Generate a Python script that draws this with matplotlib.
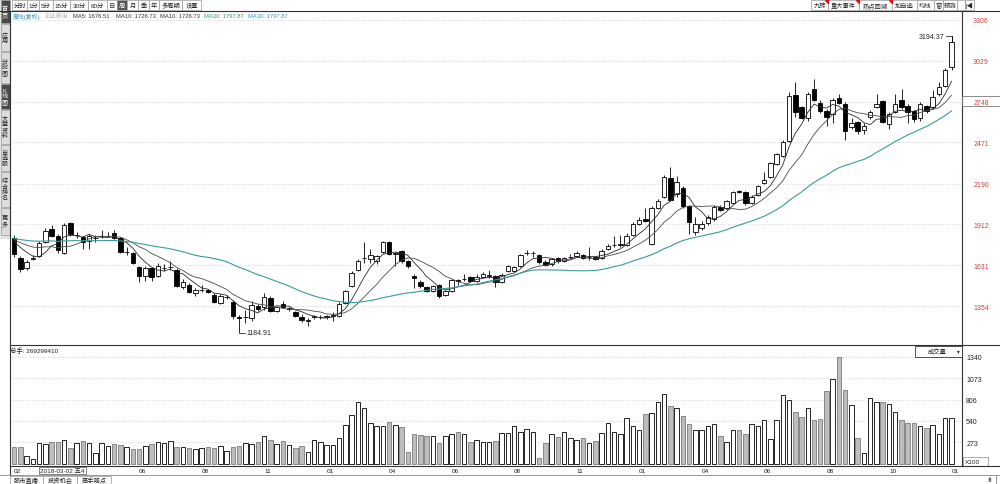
import numpy as np
import pandas as pd
import matplotlib
matplotlib.use('Agg')
import matplotlib.pyplot as plt
from matplotlib.patches import Rectangle

plt.rcParams['font.family'] = ['Liberation Sans', 'Noto Sans CJK SC', 'DejaVu Sans']

# weekly K-line data
opens = [1818, 1682, 1613, 1675, 1695, 1791, 1880, 1832, 1716, 1920,
         1836, 1825, 1798, 1815, 1830, 1830, 1852, 1818, 1720, 1716,
         1620, 1559, 1613, 1559, 1610, 1618, 1600, 1484, 1497, 1443,
         1462, 1463, 1429, 1374, 1415, 1381, 1282, 1276, 1272, 1354,
         1347, 1408, 1320, 1367, 1334, 1313, 1279, 1252, 1279, 1279,
         1280, 1286, 1286, 1374, 1491, 1600, 1680, 1675, 1661, 1723,
         1791, 1710, 1730, 1661, 1559, 1518, 1484, 1457, 1497, 1429,
         1457, 1532, 1538, 1552, 1525, 1555, 1560, 1559, 1518, 1593,
         1593, 1627, 1714, 1714, 1702, 1654, 1641, 1682, 1661, 1686,
         1695, 1702, 1686, 1688, 1682, 1743, 1768, 1770, 1770, 1839,
         1914, 1948, 1777, 2023, 2098, 2228, 2119, 2159, 2037, 1859,
         1886, 1920, 1945, 2030, 2023, 2057, 2139, 2132, 2057, 2112,
         2194, 2235, 2323, 2378, 2480, 2794, 2712, 2637, 2835, 2740,
         2685, 2664, 2774, 2733, 2576, 2610, 2555, 2644, 2712, 2753,
         2596, 2678, 2760, 2719, 2685, 2637, 2719, 2712, 2801, 2856,
         2985]
closes = [1709, 1607, 1654, 1685, 1784, 1866, 1832, 1736, 1907, 1846,
          1842, 1791, 1832, 1820, 1834, 1834, 1818, 1723, 1725, 1648,
          1559, 1613, 1552, 1627, 1614, 1622, 1491, 1518, 1450, 1463,
          1466, 1450, 1381, 1422, 1418, 1286, 1275, 1280, 1361, 1334,
          1415, 1320, 1347, 1347, 1338, 1286, 1259, 1256, 1283, 1282,
          1283, 1290, 1368, 1456, 1579, 1661, 1684, 1702, 1695, 1791,
          1709, 1714, 1661, 1627, 1545, 1491, 1457, 1491, 1422, 1457,
          1532, 1525, 1541, 1525, 1552, 1570, 1563, 1518, 1566, 1627,
          1620, 1702, 1718, 1718, 1654, 1634, 1675, 1661, 1682, 1690,
          1716, 1682, 1690, 1675, 1730, 1764, 1772, 1774, 1832, 1914,
          1941, 1934, 2023, 2071, 2235, 2077, 2200, 2037, 1927, 1914,
          1914, 1960, 2030, 2010, 2071, 2132, 2132, 2057, 2098, 2173,
          2214, 2330, 2392, 2473, 2787, 2678, 2637, 2801, 2760, 2685,
          2644, 2760, 2740, 2548, 2603, 2548, 2583, 2678, 2733, 2610,
          2664, 2733, 2712, 2678, 2630, 2733, 2685, 2780, 2849, 2965,
          3156]
highs = [1840, 1695, 1668, 1705, 1798, 1886, 1907, 1845, 1920, 1927,
         1860, 1832, 1845, 1840, 1870, 1862, 1875, 1825, 1760, 1722,
         1630, 1625, 1620, 1645, 1640, 1660, 1610, 1540, 1510, 1475,
         1500, 1470, 1440, 1435, 1430, 1395, 1290, 1330, 1385, 1370,
         1440, 1420, 1355, 1388, 1350, 1320, 1300, 1270, 1290, 1290,
         1295, 1310, 1380, 1465, 1590, 1675, 1791, 1740, 1705, 1798,
         1800, 1720, 1735, 1668, 1570, 1530, 1490, 1500, 1505, 1465,
         1540, 1540, 1570, 1560, 1570, 1585, 1600, 1565, 1580, 1635,
         1630, 1710, 1735, 1730, 1710, 1665, 1685, 1690, 1690, 1710,
         1730, 1710, 1757, 1695, 1740, 1775, 1830, 1840, 1850, 1925,
         1960, 2020, 2035, 2085, 2250, 2303, 2240, 2170, 2045, 1960,
         1935, 1975, 2040, 2045, 2080, 2140, 2145, 2140, 2110, 2180,
         2270, 2340, 2400, 2490, 2812, 2883, 2720, 2815, 2904, 2760,
         2700, 2775, 2800, 2745, 2640, 2620, 2600, 2690, 2800, 2760,
         2680, 2800, 2835, 2730, 2690, 2745, 2725, 2830, 2880, 2975,
         3194.37]
lows = [1688, 1586, 1600, 1665, 1690, 1785, 1825, 1716, 1709, 1832,
        1820, 1743, 1743, 1790, 1820, 1822, 1810, 1716, 1705, 1640,
        1520, 1525, 1525, 1550, 1595, 1600, 1485, 1470, 1440, 1425,
        1450, 1440, 1375, 1365, 1400, 1265, 1184.91, 1240, 1255, 1320,
        1330, 1310, 1310, 1340, 1320, 1280, 1245, 1215, 1265, 1268,
        1265, 1255, 1280, 1370, 1485, 1590, 1650, 1645, 1640, 1716,
        1700, 1630, 1650, 1615, 1480, 1480, 1450, 1450, 1410, 1420,
        1450, 1500, 1525, 1520, 1520, 1550, 1545, 1485, 1510, 1585,
        1585, 1620, 1700, 1690, 1640, 1625, 1630, 1650, 1655, 1675,
        1690, 1675, 1670, 1665, 1675, 1735, 1755, 1760, 1765, 1830,
        1905, 1925, 1770, 2015, 2090, 2070, 2100, 2020, 1846, 1840,
        1875, 1905, 1935, 2000, 2015, 2050, 2125, 2045, 2050, 2105,
        2185, 2228, 2315, 2370, 2470, 2644, 2630, 2620, 2750, 2670,
        2582, 2600, 2730, 2487, 2560, 2530, 2530, 2630, 2705, 2600,
        2560, 2670, 2700, 2600, 2610, 2620, 2670, 2700, 2790, 2850,
        2965]
volumes = [208, 208, 104, 63, 263, 250, 280, 280, 304, 196,
           263, 292, 263, 138, 263, 229, 250, 238, 208, 188,
           188, 229, 250, 271, 263, 284, 208, 208, 196, 188,
           196, 208, 200, 221, 167, 208, 221, 263, 250, 271,
           354, 300, 250, 284, 238, 196, 221, 146, 304, 271,
           238, 238, 321, 488, 613, 780, 696, 509, 480, 480,
           521, 488, 467, 154, 371, 363, 354, 346, 259, 354,
           371, 396, 371, 280, 304, 280, 271, 284, 391, 391,
           478, 404, 433, 404, 71, 258, 379, 341, 404, 329,
           300, 329, 266, 291, 391, 516, 404, 370, 582, 478,
           420, 620, 641, 770, 882, 728, 695, 595, 503, 420,
           420, 478, 503, 354, 270, 420, 420, 379, 503, 474,
           557, 308, 545, 865, 803, 645, 591, 695, 557, 566,
           911, 1069, 1340, 924, 736, 329, 133, 832, 782, 774,
           745, 657, 545, 516, 516, 478, 453, 491, 370, 570,
           570]
total_vol = '269299410'
price_ticks = [3306, 3029, 2748, 2471, 2190, 1912, 1631, 1354]
vol_ticks = [1340, 1073, 806, 540, 273]
date_ticks = [0, 20, 30, 40, 50, 60, 70, 80, 90, 100, 110, 120, 130, 140, 150]
date_labels = ['02', '06', '08', '11', '01', '04', '06', '08', '11', '01',
               '04', '06', '08', '10', '01']
hover_label = '2018-03-02 五'

df = pd.DataFrame({'open': opens, 'close': closes, 'high': highs,
                   'low': lows, 'vol': volumes})
# moving averages, seeded with the first visible price level
seed = pd.Series([opens[0]] * 29 + closes)
df['ma5'] = seed.rolling(5).mean().iloc[29:].values
df['ma10'] = seed.rolling(10).mean().iloc[29:].values
df['ma30'] = seed.rolling(30).mean().iloc[29:].values
x = np.arange(len(df))
up = df['close'] >= df['open']

W, H = 1000, 485
fig = plt.figure(figsize=(W / 100, H / 100), dpi=100)
fig.patch.set_facecolor('white')


def px_axes(x0, y0, x1, y1):
    return fig.add_axes([x0 / W, 1 - y1 / H, (x1 - x0) / W, (y1 - y0) / H])


XL = ((10 - 14) / 6.25, (962 - 14) / 6.25)
grid_kw = dict(color='#c4c4c4', lw=0.6, ls=(0, (1, 2)), zorder=0)
red = '#d6403e'

# ---- price panel
ax = px_axes(10, 12, 962, 345)
ax.set_xlim(*XL)
ax.set_ylim(3306 - (345 - 21) * 6.825, 3306 + 9 * 6.825)
for t in price_ticks:
    ax.axhline(t, **grid_kw)
body = (df['close'] - df['open']).abs().clip(lower=1.5)
bottom = df[['open', 'close']].min(axis=1)
ax.vlines(x, df['low'], df['high'], color='black', lw=0.6, zorder=2)
ax.bar(x[up], body[up], bottom=bottom[up], width=0.72, facecolor='white',
       edgecolor='black', lw=0.6, zorder=3)
ax.bar(x[~up], body[~up], bottom=bottom[~up], width=0.72, facecolor='black',
       edgecolor='black', lw=0.6, zorder=3)
ax.plot(x, df['ma5'], color='#2a2a2a', lw=0.6, zorder=4)
ax.plot(x, df['ma10'], color='#4a4a4a', lw=0.6, zorder=4)
ax.plot(x, df['ma30'], color='#3a9e98', lw=0.8, zorder=4)
ax.set_yticks(price_ticks)
ax.set_yticklabels([str(t) for t in price_ticks], color=red, fontsize=5)
ax.yaxis.tick_right()
ax.tick_params(axis='y', length=0, pad=8)
ax.set_xticks([])
for s in ['top', 'left', 'bottom']:
    ax.spines[s].set_visible(False)
ax.spines['right'].set_color('#333333')
ax.spines['right'].set_linewidth(0.8)

# low / high markers
imin = int(np.argmin(lows))
imax = int(np.argmax(highs))
ax.plot([imin, imin, imin + 1.0], [lows[imin], lows[imin] - 15, lows[imin] - 15],
        color='black', lw=0.5)
ax.text(imin + 1.2, lows[imin] - 15, f'{lows[imin]:.2f}', fontsize=5,
        va='center', ha='left', color='#222222')
ax.plot([imax - 0.9, imax, imax], [highs[imax], highs[imax], closes[imax]],
        color='black', lw=0.5)
ax.text(imax - 1.1, highs[imax], f'{highs[imax]:.2f}', fontsize=5,
        va='center', ha='right', color='#222222')

# ---- volume panel
vax = px_axes(10, 347, 962, 467)
vax.set_xlim(*XL)
vax.set_ylim(-25, (465 - 347) * 12.52)
for t in vol_ticks:
    vax.axhline(t, **grid_kw)
vax.bar(x[up], df['vol'][up], width=0.72, facecolor='white',
        edgecolor='black', lw=0.6, zorder=3)
vax.bar(x[~up], df['vol'][~up], width=0.72, facecolor='#bdbdbd',
        edgecolor='#7a7a7a', lw=0.6, zorder=3)
vax.set_yticks(vol_ticks)
vax.set_yticklabels([str(t) for t in vol_ticks], fontsize=5, color='#222222')
vax.yaxis.tick_right()
vax.tick_params(axis='y', length=0, pad=3)
vax.set_xticks([])
for s in ['top', 'left', 'bottom']:
    vax.spines[s].set_visible(False)
vax.spines['right'].set_color('#333333')
vax.spines['right'].set_linewidth(0.8)
vax.text(0.0, 1.0, '总手: ' + total_vol, transform=vax.transAxes,
         fontsize=4.6, va='top', ha='left', color='#222222')

# date labels under volume panel
dax = px_axes(10, 467, 962, 476)
dax.set_xlim(*XL)
dax.set_ylim(0, 1)
dax.axis('off')
for t, lab in zip(date_ticks, date_labels):
    dax.text(t, 0.45, lab, fontsize=4.6, ha='left', va='center', color='#222222')
dax.text(4.2, 0.45, hover_label + '4', fontsize=4.6, ha='left', va='center',
         color='#222222',
         bbox=dict(boxstyle='square,pad=0.15', fc='white', ec='#555555', lw=0.5))

# ---- chrome (toolbar, sidebar, frames) in pixel coordinates
ov = fig.add_axes([0, 0, 1, 1], zorder=-1)
ov.set_xlim(0, W)
ov.set_ylim(H, 0)
ov.axis('off')
top = fig.add_axes([0, 0, 1, 1], zorder=10)
top.set_xlim(0, W)
top.set_ylim(H, 0)
top.axis('off')
top.patch.set_alpha(0)

line = dict(color='#333333', lw=0.8)
top.plot([0, W], [11.5, 11.5], **line)
top.plot([10, 10], [11.5, 476], **line)
top.plot([10, 1000], [345.5, 345.5], **line)
top.plot([10, 1000], [467, 467], **line)
top.plot([0, 1000], [476, 476], color='#888888', lw=0.6)
top.add_patch(Rectangle((962, 97), 38, 10, fc='none', ec='#777777', lw=0.6))

# toolbar left
btn_l = [('分时', 12, 27), ('1分', 27, 39), ('5分', 39, 53), ('15分', 53, 70),
         ('30分', 70, 88), ('60分', 88, 107), ('日', 107, 117), ('周', 117, 127),
         ('月', 127, 138), ('季', 138, 149), ('年', 149, 159),
         ('多周期', 159, 182), ('设置', 182, 201)]
for lab, a, b in btn_l:
    sel = lab == '周'
    top.add_patch(Rectangle((a, 0.5), b - a, 10, fc='#555555' if sel else 'white',
                            ec='#9a9a9a', lw=0.5))
    top.text((a + b) / 2, 6, lab, fontsize=4.5, ha='center', va='center',
             color='white' if sel else '#222222')
# toolbar right
btn_r = [('九转', 811, 828), ('重大事件', 828, 859), ('热点回溯', 859, 892),
         ('加自选', 892, 917), ('均线', 917, 934), ('窗', 934, 943),
         ('预测', 943, 957), ('', 957, 965), ('|◀', 965, 974)]
for lab, a, b in btn_r:
    top.add_patch(Rectangle((a, 0.5), b - a, 10, fc='white', ec='#9a9a9a', lw=0.5))
    top.text((a + b) / 2, 6, lab, fontsize=4.5, ha='center', va='center',
             color='#222222')
for a in [828, 859, 892]:
    top.add_patch(plt.Polygon([[a - 3.5, 0.5], [a, 0.5], [a, 4]], color='#dd1111'))

# header with moving-average readout
hdr = [('周线(复权)', 13, '#3d8fb5'), ('创业板指', 45, '#b4b4b4'),
       ('MA5: 1676.51', 73, '#333333'), ('MA10: 1726.73', 116, '#333333'),
       ('MA10: 1726.73', 160, '#333333'), ('MA30: 1797.87', 204, '#3a9a6a'),
       ('MA30: 1797.87', 248, '#3aa0aa')]
for lab, xp, c in hdr:
    top.text(xp, 16.5, lab, fontsize=4.2, ha='left', va='center', color=c)

# left sidebar
ov.add_patch(Rectangle((0, 0), 10, 240, fc='#e4e4e4', ec='none'))
tabs = [('首页', 0, 24, True), ('应用', 24, 52, False), ('分时图', 52, 84, False),
        ('K线图', 84, 110, True), ('大盘资料', 110, 145, False),
        ('自选股', 145, 172, False), ('综合排名', 172, 208, False),
        ('更多', 208, 236, False)]
for lab, a, b, sel in tabs:
    top.add_patch(Rectangle((0.5, a + 0.5), 9, b - a - 1,
                            fc='#4a4a4a' if sel else '#dcdcdc', ec='#9a9a9a', lw=0.5))
    chars = ['K'] + list(lab[1:]) if lab.startswith('K') else list(lab)
    top.text(5, (a + b) / 2, '\n'.join(chars), fontsize=4.4, ha='center',
             va='center', linespacing=1.1, color='white' if sel else '#222222')

# volume selector box and X100 unit
top.add_patch(Rectangle((915, 347), 47, 11, fc='white', ec='#333333', lw=0.6))
top.text(937, 352.5, '成交量', fontsize=4.5, ha='center', va='center', color='#222222')
top.text(958, 352, '▾', fontsize=4, ha='center', va='center', color='#222222')
top.add_patch(Rectangle((963, 458), 25, 9, fc='white', ec='#888888', lw=0.5))
top.text(965, 462.5, 'X100', fontsize=4.6, ha='left', va='center', color='#222222')

# bottom tabs
for lab, a, b in [('股市直播', 10, 43), ('投资机会', 43, 77), ('高手观点', 77, 111)]:
    top.add_patch(Rectangle((a, 476.5), b - a, 8.5, fc='white', ec='#999999', lw=0.5))
    top.text((a + b) / 2, 480.8, lab, fontsize=4.5, ha='center', va='center',
             color='#222222')
top.text(989, 480, '⇟', fontsize=5, ha='center', va='center', color='#222222')
top.plot([996, 996], [476, 485], color='#888888', lw=0.6)

fig.savefig('out.png', dpi=100, facecolor='white')
